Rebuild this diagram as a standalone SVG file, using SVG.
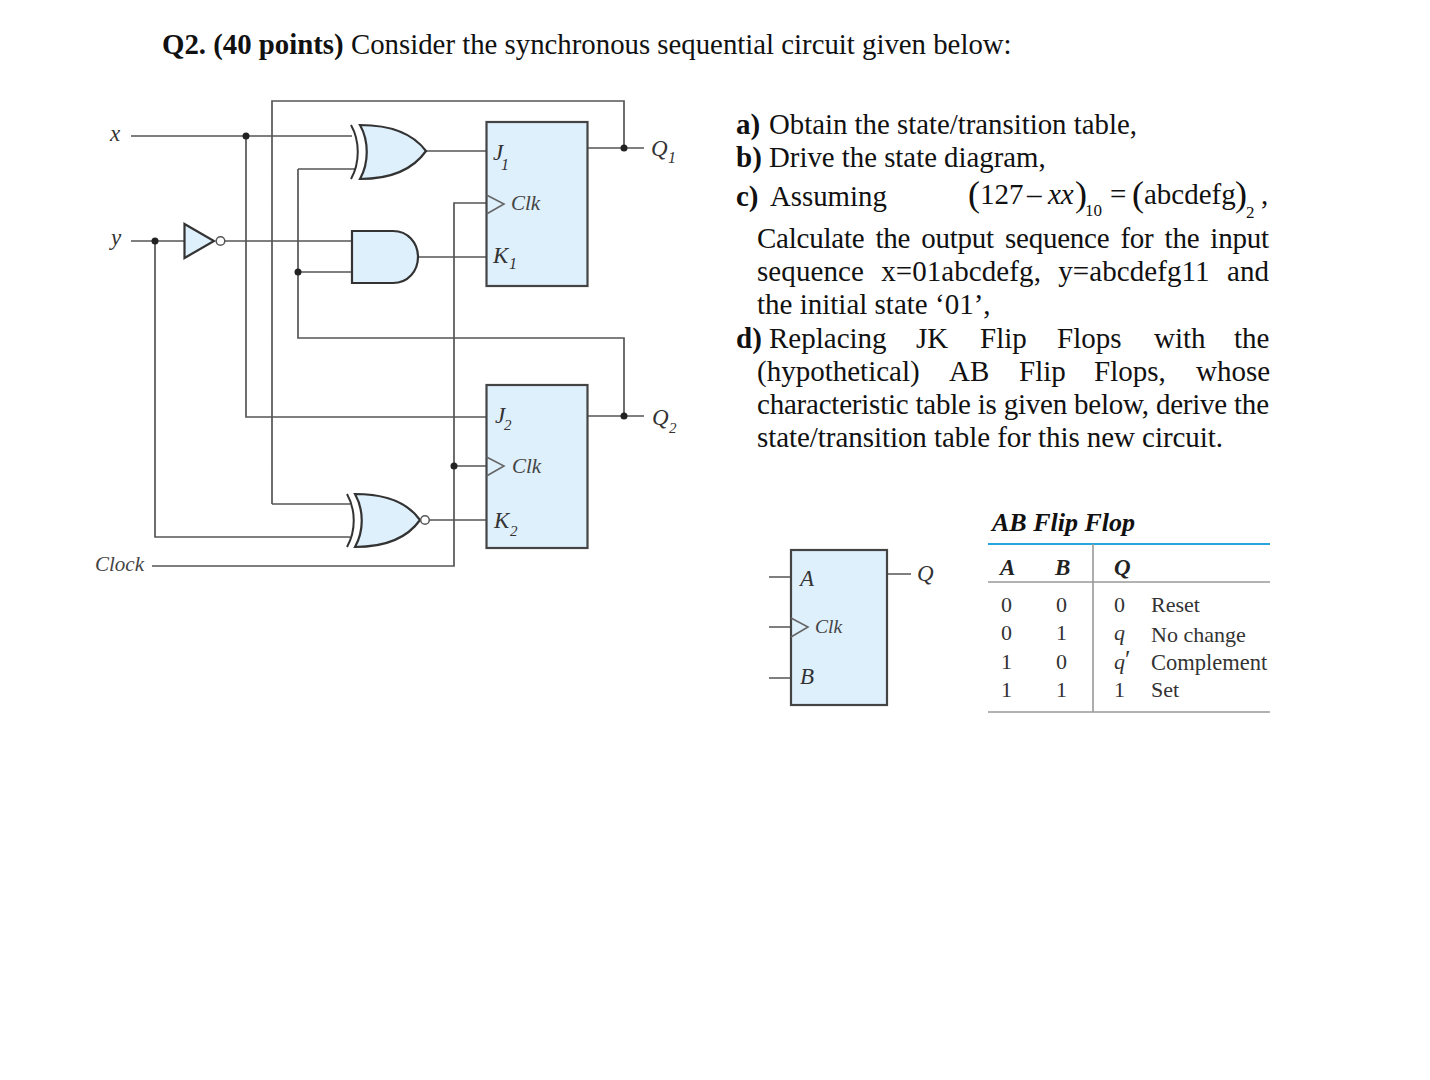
<svg xmlns="http://www.w3.org/2000/svg" width="1430" height="1080" viewBox="0 0 1430 1080">
<style>
text{font-family:"Liberation Serif","Times New Roman",serif;fill:#111}
.t{font-size:29px}
.b{font-weight:bold}
.i{font-style:italic;fill:#333}
.l{font-size:23px}
.s{font-size:15px}
.c{font-size:21px;fill:#444;font-style:italic}
.tb{font-size:22px;fill:#333}
.w{fill:none;stroke:#555;stroke-width:1.7}
.g{fill:#dff0fd;stroke:#333;stroke-width:2.2}
.f{fill:#dff0fd;stroke:#444;stroke-width:2.2}
.a{fill:none;stroke:#333;stroke-width:2}
.o{fill:#fff;stroke:#555;stroke-width:1.5}
.k{fill:none;stroke:#666;stroke-width:1.6}
.r{stroke:#999;stroke-width:1.6}
</style>
<rect width="1430" height="1080" fill="#fff"/>
<g id="connectors">
<path class="w" d="M131 136H352M246 136V417H486M272 504V101H624V148M588 148H644M298 169H355M298 169V338H624V416M588 416H644M272 504H350M131 241H184M155 241V537H350M224 241H352M298 272H352M418 257H486M426 151H486M429 520H486M152 566H454V203H486M454 466H486"/>
<circle cx="246" cy="136" r="3.500" fill="#222"/><circle cx="155" cy="241" r="3.500" fill="#222"/><circle cx="298" cy="272" r="3.500" fill="#222"/><circle cx="624" cy="148" r="3.500" fill="#222"/><circle cx="624" cy="416" r="3.500" fill="#222"/><circle cx="454" cy="466" r="3.500" fill="#222"/>
</g>
<g id="xor1"><path class="g" d="M360 125C392 125 414 135 426 151C414 168 392 179 360 179C369 163 369 141 360 125Z"/><path class="a" d="M351 125C360 141 360 163 351 179"/></g>
<g id="not1"><path class="g" d="M184.500 224L214 241L184.500 258Z"/><circle class="o" cx="220.500" cy="241" r="4.300"/></g>
<g id="and1"><path class="g" d="M352 231H393C408 231 418 243 418 257C418 271 408 283 393 283H352Z"/></g>
<g id="xnor1"><path class="g" d="M355 494C386 494 408 503 420 520C408 537 386 547 355 547C364 531 364 510 355 494Z"/><path class="a" d="M347 494C356 510 356 531 347 547"/><circle class="o" cx="425" cy="520" r="4.300"/></g>
<g id="ff1"><rect class="f" x="486.500" y="122" width="101" height="164"/><path class="k" d="M486.500 195L504 204L486.500 214"/>
<text class="l i" x="493" y="160">J</text><text class="s i" x="501" y="170" style="font-size:16px">1</text>
<text class="c" x="511" y="210">Clk</text>
<text class="l i" x="493" y="263">K</text><text class="s i" x="509" y="269" style="font-size:16px">1</text></g>
<g id="ff2"><rect class="f" x="486.500" y="385" width="101" height="163"/><path class="k" d="M486.500 457L504 466L486.500 476"/>
<text class="l i" x="495" y="423">J</text><text class="s i" x="504" y="430">2</text>
<text class="c" x="512" y="473">Clk</text>
<text class="l i" x="494" y="528">K</text><text class="s i" x="510" y="536">2</text></g>
<g id="labels">
<text class="l i" x="110" y="141">x</text>
<text class="l i" x="111" y="245">y</text>
<text class="c" x="95" y="571">Clock</text>
<text class="l i" x="651" y="156">Q</text><text class="s i" x="668" y="163" style="font-size:16px">1</text>
<text class="l i" x="652" y="425">Q</text><text class="s i" x="669" y="433">2</text>
</g>
<g id="ff3"><path class="w" d="M769 577H791M769 627H791M769 678H791M887 574H911"/><rect class="f" x="791" y="550" width="96" height="155"/><path class="k" d="M791 618L808 627L791 637"/>
<text class="l i" x="800" y="586">A</text><text class="c" x="815" y="633" style="font-size:19.500px">Clk</text><text class="l i" x="800" y="684">B</text><text class="l i" x="917" y="581">Q</text></g>
<g id="table">
<text x="992" y="531" style="font-size:26px;font-weight:bold;font-style:italic">AB Flip Flop</text>
<path d="M988 544H1270" stroke="#2aa5dc" stroke-width="2.200"/><path class="r" d="M988 582H1270M988 712H1270M1093 544V712"/>
<text x="1000" y="575" class="b i" style="font-size:23px;fill:#222">A</text><text x="1055" y="575" class="b i" style="font-size:23px;fill:#222">B</text><text x="1114" y="575" class="b i" style="font-size:23px;fill:#222">Q</text>
<text class="tb" x="1001" y="612">0</text><text class="tb" x="1056" y="612">0</text><text class="tb" x="1114" y="612">0</text><text class="tb" x="1151" y="612">Reset</text>
<text class="tb" x="1001" y="640">0</text><text class="tb" x="1056" y="640">1</text><text class="tb i" x="1114" y="640">q</text><text class="tb" x="1151" y="642">No change</text>
<text class="tb" x="1001" y="669">1</text><text class="tb" x="1056" y="669">0</text><text class="tb i" x="1114" y="669">q</text><text class="tb" x="1125" y="668" style="font-size:25px">′</text><text class="tb" x="1151" y="670" style="font-size:22.500px">Complement</text>
<text class="tb" x="1001" y="697">1</text><text class="tb" x="1056" y="697">1</text><text class="tb" x="1114" y="697">1</text><text class="tb" x="1151" y="697">Set</text>
</g>
<g id="text">
<text class="t" x="162" y="54" style="font-size:28.800px"><tspan class="b">Q2. (40 points)</tspan><tspan x="351">Consider the synchronous sequential circuit given below:</tspan></text>
<text class="t" x="736" y="134"><tspan class="b">a)</tspan><tspan x="769" style="font-size:28.800px">Obtain the state/transition table,</tspan></text>
<text class="t" x="736" y="167"><tspan class="b">b)</tspan><tspan x="769" style="font-size:28.800px">Drive the state diagram,</tspan></text>
<text class="t" x="736" y="206"><tspan class="b">c)</tspan><tspan x="770" style="font-size:28.800px">Assuming</tspan></text>
<text x="968" y="206" style="font-size:36px">(</text><text class="t" x="980" y="204">127</text><text class="t" x="1027" y="204">–</text><text class="t" x="1048" y="204" font-style="italic">xx</text><text x="1075" y="206" style="font-size:36px">)</text><text x="1085" y="216" style="font-size:17px">10</text><text class="t" x="1110" y="204">=</text><text x="1132" y="206" style="font-size:36px">(</text><text class="t" x="1144" y="204">abcdefg</text><text x="1235" y="206" style="font-size:36px">)</text><text x="1246" y="218" style="font-size:17px">2</text><text class="t" x="1261" y="204">,</text>
<text class="t" x="757" y="248" textLength="512" word-spacing="4">Calculate the output sequence for the input</text>
<text class="t" x="757" y="281" textLength="512" word-spacing="10">sequence x=01abcdefg, y=abcdefg11 and</text>
<text class="t" x="757" y="314">the initial state ‘01’,</text>
<text class="t" x="736" y="348"><tspan class="b">d)</tspan><tspan x="769">Replacing</tspan><tspan x="916">JK</tspan><tspan x="980">Flip</tspan><tspan x="1057">Flops</tspan><tspan x="1154">with</tspan><tspan x="1234">the</tspan></text>
<text class="t" x="757" y="381">(hypothetical)<tspan x="949">AB</tspan><tspan x="1019">Flip</tspan><tspan x="1094">Flops,</tspan><tspan x="1196">whose</tspan></text>
<text class="t" x="757" y="414" textLength="512">characteristic table is given below, derive the</text>
<text class="t" x="757" y="447" textLength="466">state/transition table for this new circuit.</text>
</g>
</svg>
